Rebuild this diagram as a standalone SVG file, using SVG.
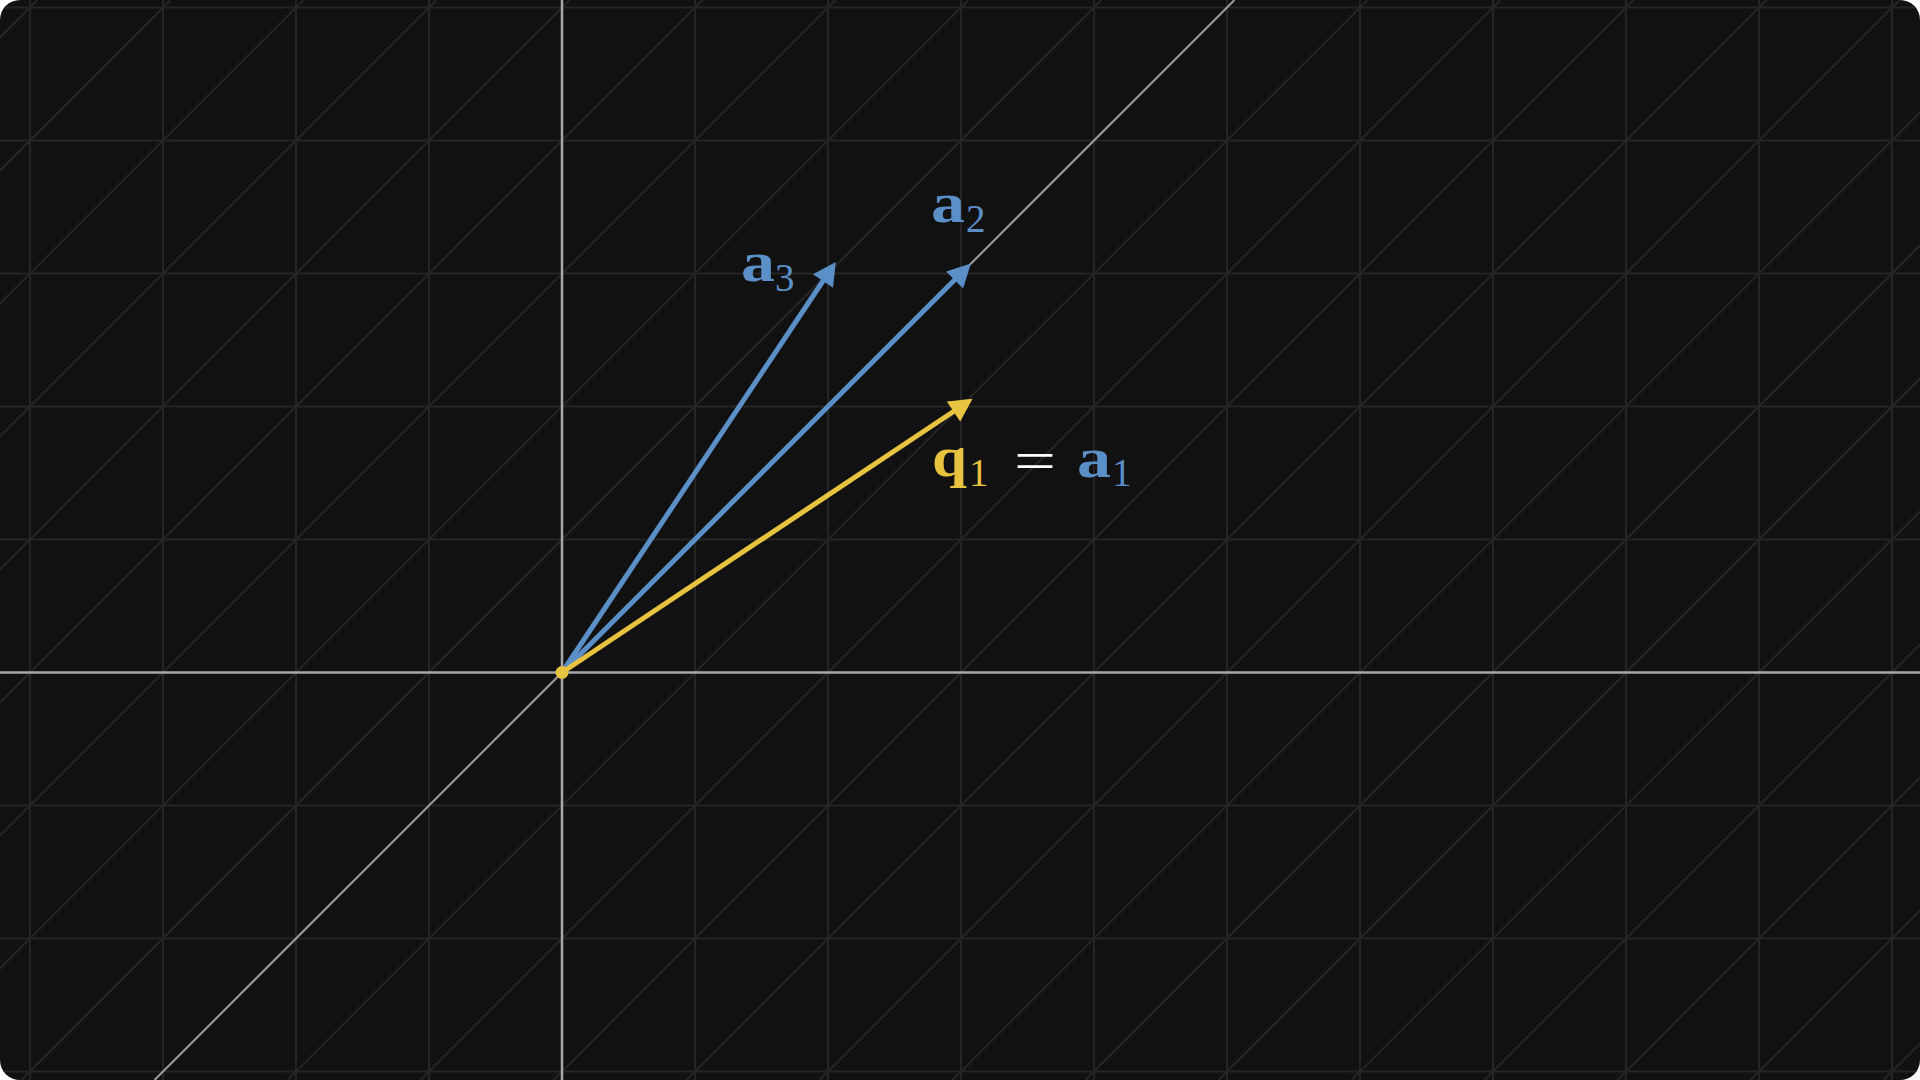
<svg xmlns="http://www.w3.org/2000/svg" width="1920" height="1080" viewBox="0 0 1920 1080">
<style>
.grid{stroke:#252525;stroke-width:2;fill:none}
.axis{stroke:#a8a8a8;stroke-width:2.5;fill:none}
.span{stroke:#9c9c9c;stroke-width:2;fill:none}
.vb{stroke:#5b8fc7;stroke-width:5;stroke-linecap:round;fill:none}
.vy{stroke:#e8c33f;stroke-width:5;stroke-linecap:round;fill:none}
.hb{fill:#5b8fc7}
.hy{fill:#e8c33f}
.lbl{font-family:"Liberation Serif","DejaVu Serif",serif}
.big{font-size:58px;font-weight:bold}
.sub{font-size:39px;font-weight:normal}
</style>
<defs>
<clipPath id="card"><rect x="0" y="0" width="1920" height="1080" rx="20" ry="20"/></clipPath>
</defs>
<rect width="1920" height="1080" fill="#ffffff"/>
<g id="background" clip-path="url(#card)">
<rect x="0" y="0" width="1920" height="1080" fill="#111111"/>
<path class="grid" d="M30,0V1080M163,0V1080M296,0V1080M429,0V1080M695,0V1080M828,0V1080M961,0V1080M1094,0V1080M1227,0V1080M1360,0V1080M1493,0V1080M1626,0V1080M1759,0V1080M1892,0V1080"/>
<path class="grid" d="M0,7.5H1920M0,140.5H1920M0,273.5H1920M0,406.5H1920M0,539.5H1920M0,805.5H1920M0,938.5H1920M0,1071.5H1920"/>
<path class="grid" d="M37.5,0L-1042.5,1080M170.5,0L-909.5,1080M303.5,0L-776.5,1080M436.5,0L-643.5,1080M569.5,0L-510.5,1080M702.5,0L-377.5,1080M835.5,0L-244.5,1080M968.5,0L-111.5,1080M1101.5,0L21.5,1080M1367.5,0L287.5,1080M1500.5,0L420.5,1080M1633.5,0L553.5,1080M1766.5,0L686.5,1080M1899.5,0L819.5,1080M2032.5,0L952.5,1080M2165.5,0L1085.5,1080M2298.5,0L1218.5,1080M2431.5,0L1351.5,1080M2564.5,0L1484.5,1080M2697.5,0L1617.5,1080M2830.5,0L1750.5,1080M2963.5,0L1883.5,1080"/>
<path id="span-line" class="span" d="M1234.5,0L154.5,1080"/>
<path id="axes" class="axis" d="M562,0V1080M0,672.5H1920"/>
</g>
<g id="connectors">
<g id="vec-a3">
<line class="vb" x1="562" y1="672.5" x2="824" y2="279.5"/>
<polygon class="hb" points="835.8,261.9 833,287.7 813,274.3"/>
</g>
<g id="vec-a2">
<line class="vb" x1="562" y1="672.5" x2="955.5" y2="279"/>
<polygon class="hb" points="970.9,263.6 963.1,288.4 946.1,271.4"/>
</g>
<g id="vec-q1">
<line class="vy" x1="562" y1="672.5" x2="955" y2="410.5"/>
<polygon class="hy" points="972.6,398.7 960.2,421.5 946.8,401.5"/>
</g>
</g>
<g id="origin"><circle cx="562" cy="672.5" r="6.5" fill="#e8c33f"/></g>
<g id="label-a3" class="lbl" fill="#5b8fc7">
<text x="741" y="281" class="big" textLength="34" lengthAdjust="spacingAndGlyphs">a</text>
<text x="775" y="291" class="sub">3</text>
</g>
<g id="label-a2" class="lbl" fill="#5b8fc7">
<text x="931" y="222" class="big" textLength="34" lengthAdjust="spacingAndGlyphs">a</text>
<text x="966" y="232" class="sub">2</text>
</g>
<g id="label-q1" class="lbl">
<text x="932" y="476" class="big" fill="#e8c33f" textLength="35" lengthAdjust="spacingAndGlyphs">q</text>
<text x="969" y="486" class="sub" fill="#e8c33f">1</text>
<text x="1014" y="480" font-size="58" fill="#ffffff" textLength="42" lengthAdjust="spacingAndGlyphs">=</text>
<text x="1077" y="477" class="big" fill="#5b8fc7" textLength="34" lengthAdjust="spacingAndGlyphs">a</text>
<text x="1112" y="486" class="sub" fill="#5b8fc7">1</text>
</g>
</svg>
